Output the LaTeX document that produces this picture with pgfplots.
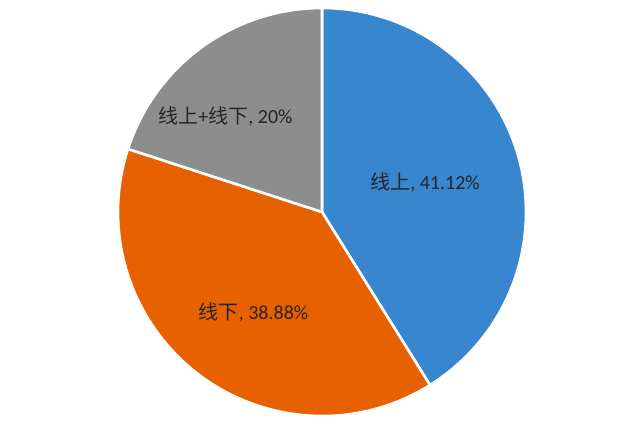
\documentclass[border=0pt]{standalone}
\usepackage{pgfplots}
\pgfplotsset{compat=1.18}
\usepackage{pgfplotstable}
\usepackage{fontspec}
\setmainfont{Carlito}
\newfontfamily\cjk{Noto Sans CJK SC}
\definecolor{cblue}{RGB}{56,135,206}
\definecolor{corange}{RGB}{232,97,0}
\definecolor{cgray}{RGB}{141,141,141}
\definecolor{ctext}{RGB}{38,38,38}
% slice data: percentage, colour
\pgfplotstableread{
pct  col
41.12 cblue
38.88 corange
20    cgray
}\piedata
\def\cx{322}\def\cy{214}\def\R{204}
\begin{document}
\begin{tikzpicture}
\begin{axis}[
  hide axis, scale only axis,
  width=640pt, height=426pt,
  xmin=0, xmax=640, ymin=0, ymax=426,
  clip=false,
]
\path[use as bounding box] (axis cs:0,0) rectangle (axis cs:640,426);
\pgfmathsetmacro\start{90}
\pgfplotsinvokeforeach{0,1,2}{%
  \pgfplotstablegetelem{#1}{pct}\of\piedata \let\p\pgfplotsretval
  \pgfplotstablegetelem{#1}{col}\of\piedata \let\c\pgfplotsretval
  \pgfmathsetmacro\stop{\start-3.6*\p}
  \pgfmathsetmacro\sx{\cx+\R*cos(\start)}
  \pgfmathsetmacro\sy{\cy+\R*sin(\start)}
  \edef\temp{\noexpand\fill[\c, draw=white, line width=2.6pt, line join=round]
    (axis cs:\cx,\cy) -- (axis cs:\sx,\sy)
    arc[start angle=\start, end angle=\stop, radius=\R pt] -- cycle;}
  \temp
  \global\let\start\stop
}
\tikzset{lbl/.style={text=ctext, inner sep=0pt, font=\fontsize{20}{24}\selectfont}}
\node[lbl] at (axis cs:425,244) {{\cjk 线上}, 41.12\%};
\node[lbl] at (axis cs:253.5,114) {{\cjk 线下}, 38.88\%};
\node[lbl] at (axis cs:225.5,309.5) {{\cjk 线上}+{\cjk 线下}, 20\%};
\end{axis}
\end{tikzpicture}
\end{document}
